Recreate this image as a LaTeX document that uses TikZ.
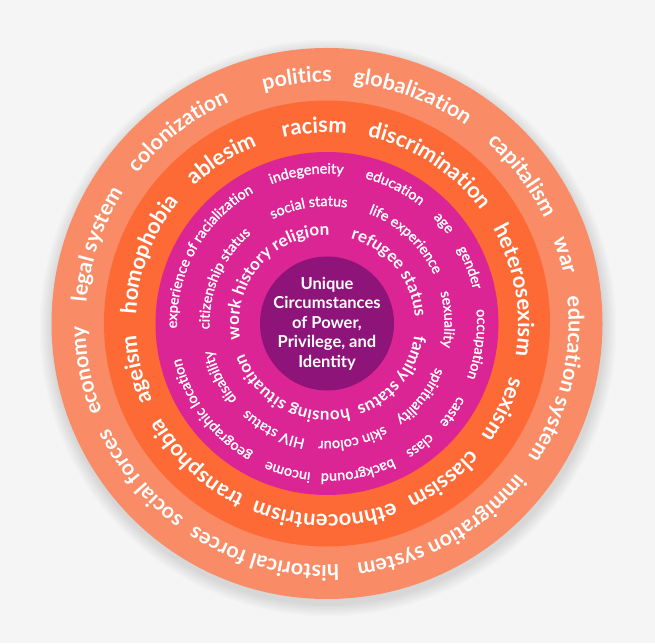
\documentclass[tikz,border=0pt]{standalone}
\usepackage{fontspec}
\setmainfont{Lato}
\newfontfamily\latomed{Lato}[FakeBold=1.6]
\usetikzlibrary{decorations.text}
\definecolor{bgc}{HTML}{F5F5F5}
\definecolor{salmon}{HTML}{F98C66}
\definecolor{orangering}{HTML}{FD6A35}
\definecolor{magentaring}{HTML}{DC2594}
\definecolor{purplecore}{HTML}{8F1479}
\newcommand\outerfont{\fontsize{21.5}{21.5}\selectfont\bfseries}
\newcommand\orangefont{\fontsize{22}{22}\selectfont\bfseries}
\newcommand\magfont{\fontsize{14.3}{14.3}\selectfont\latomed}
\newcommand\innerfont{\fontsize{17}{17}\selectfont\bfseries}
% #1 baseline radius, #2 mid angle, #3 font macro, #4 text
\newcommand\arcword[4]{%
  \path[decorate, decoration={text along path, text align=center, text color=white, text={|#3|#4}}]
    (C) ++({#2+90}:#1) arc[start angle={#2+90}, end angle={#2-90}, radius=#1];
}
\tikzset{
  ring/.style={circle, inner sep=0pt, draw=none},
  coretext/.style={align=center, text=white, font=\fontsize{16.5}{19.5}\selectfont\bfseries}
}
\begin{document}
\begin{tikzpicture}[x=1pt,y=1pt]
\useasboundingbox (0,0) rectangle (655,643);
\fill[bgc] (0,0) rectangle (655,643);
\coordinate (C) at (327,319.5);
\coordinate (S) at (328,315);
\foreach \i in {1,...,10} \fill[black, opacity=0.012] (S) circle ({275.5+\i*1.3});
\node[ring, fill=salmon, minimum size=551pt] (outer) at (C) {};
\node[ring, fill=orangering, minimum size=446pt] (middle) at (C) {};
\node[ring, fill=magentaring, minimum size=343pt] (inner) at (C) {};
\node[ring, fill=purplecore, minimum size=134pt] (core) at (C) {};
\node[coretext] (label) at (C) {Unique\\Circumstances\\of Power,\\Privilege, and\\Identity};
% outer ring
\arcword{241.5}{97}{\outerfont}{politics}
\arcword{241.5}{69.4}{\outerfont}{globalization}
\arcword{241.5}{37.1}{\outerfont}{capitalism}
\arcword{241.5}{16}{\outerfont}{war}
\arcword{241.5}{-13.6}{\outerfont}{education system}
\arcword{241.5}{-60.6}{\outerfont}{immigration system}
\arcword{241.5}{-105.2}{\outerfont}{historical forces}
\arcword{241.5}{-140.3}{\outerfont}{social forces}
\arcword{241.5}{191}{\outerfont}{economy}
\arcword{241.5}{161}{\outerfont}{legal system}
\arcword{241.5}{127.7}{\outerfont}{colonization}
% orange ring
\arcword{191}{93.7}{\orangefont}{racism}
\arcword{191}{57}{\orangefont}{discrimination}
\arcword{191}{10}{\orangefont}{heterosexism}
\arcword{191}{-26}{\orangefont}{sexism}
\arcword{191}{-53.3}{\orangefont}{classism}
\arcword{191}{-90.7}{\orangefont}{ethnocentrism}
\arcword{191}{-133}{\orangefont}{transphobia}
\arcword{191}{-166.4}{\orangefont}{ageism}
\arcword{191}{158.8}{\orangefont}{homophobia}
\arcword{191}{122.6}{\orangefont}{ablesim}
% magenta outer
\arcword{150}{97.8}{\magfont}{indegeneity}
\arcword{150}{63.5}{\magfont}{education}
\arcword{150}{40.7}{\magfont}{age}
\arcword{150}{21.4}{\magfont}{gender}
\arcword{150}{-7.9}{\magfont}{occupation}
\arcword{150}{-35.2}{\magfont}{caste}
\arcword{150}{-52.8}{\magfont}{class}
\arcword{150}{-78.2}{\magfont}{background}
\arcword{150}{-104.9}{\magfont}{income}
\arcword{150}{-143.2}{\magfont}{geographic location}
\arcword{150}{150.5}{\magfont}{experience of racialization}
% magenta middle
\arcword{117.5}{98.9}{\magfont}{social status}
\arcword{117.5}{46.9}{\magfont}{life experience}
\arcword{117.5}{1.9}{\magfont}{sexuality}
\arcword{117.5}{-38}{\magfont}{spirituality}
\arcword{117.5}{-77.5}{\magfont}{skin colour}
\arcword{117.5}{-116.7}{\magfont}{HIV status}
\arcword{117.5}{-153.4}{\magfont}{disability}
\arcword{117.5}{156.5}{\magfont}{citizenship status}
% inner
\arcword{88}{139.4}{\innerfont}{work history religion}
\arcword{88}{39.3}{\innerfont}{refugee status}
\arcword{88}{-39}{\innerfont}{family status}
\arcword{88}{-117.9}{\innerfont}{housing situation}
\end{tikzpicture}
\end{document}
